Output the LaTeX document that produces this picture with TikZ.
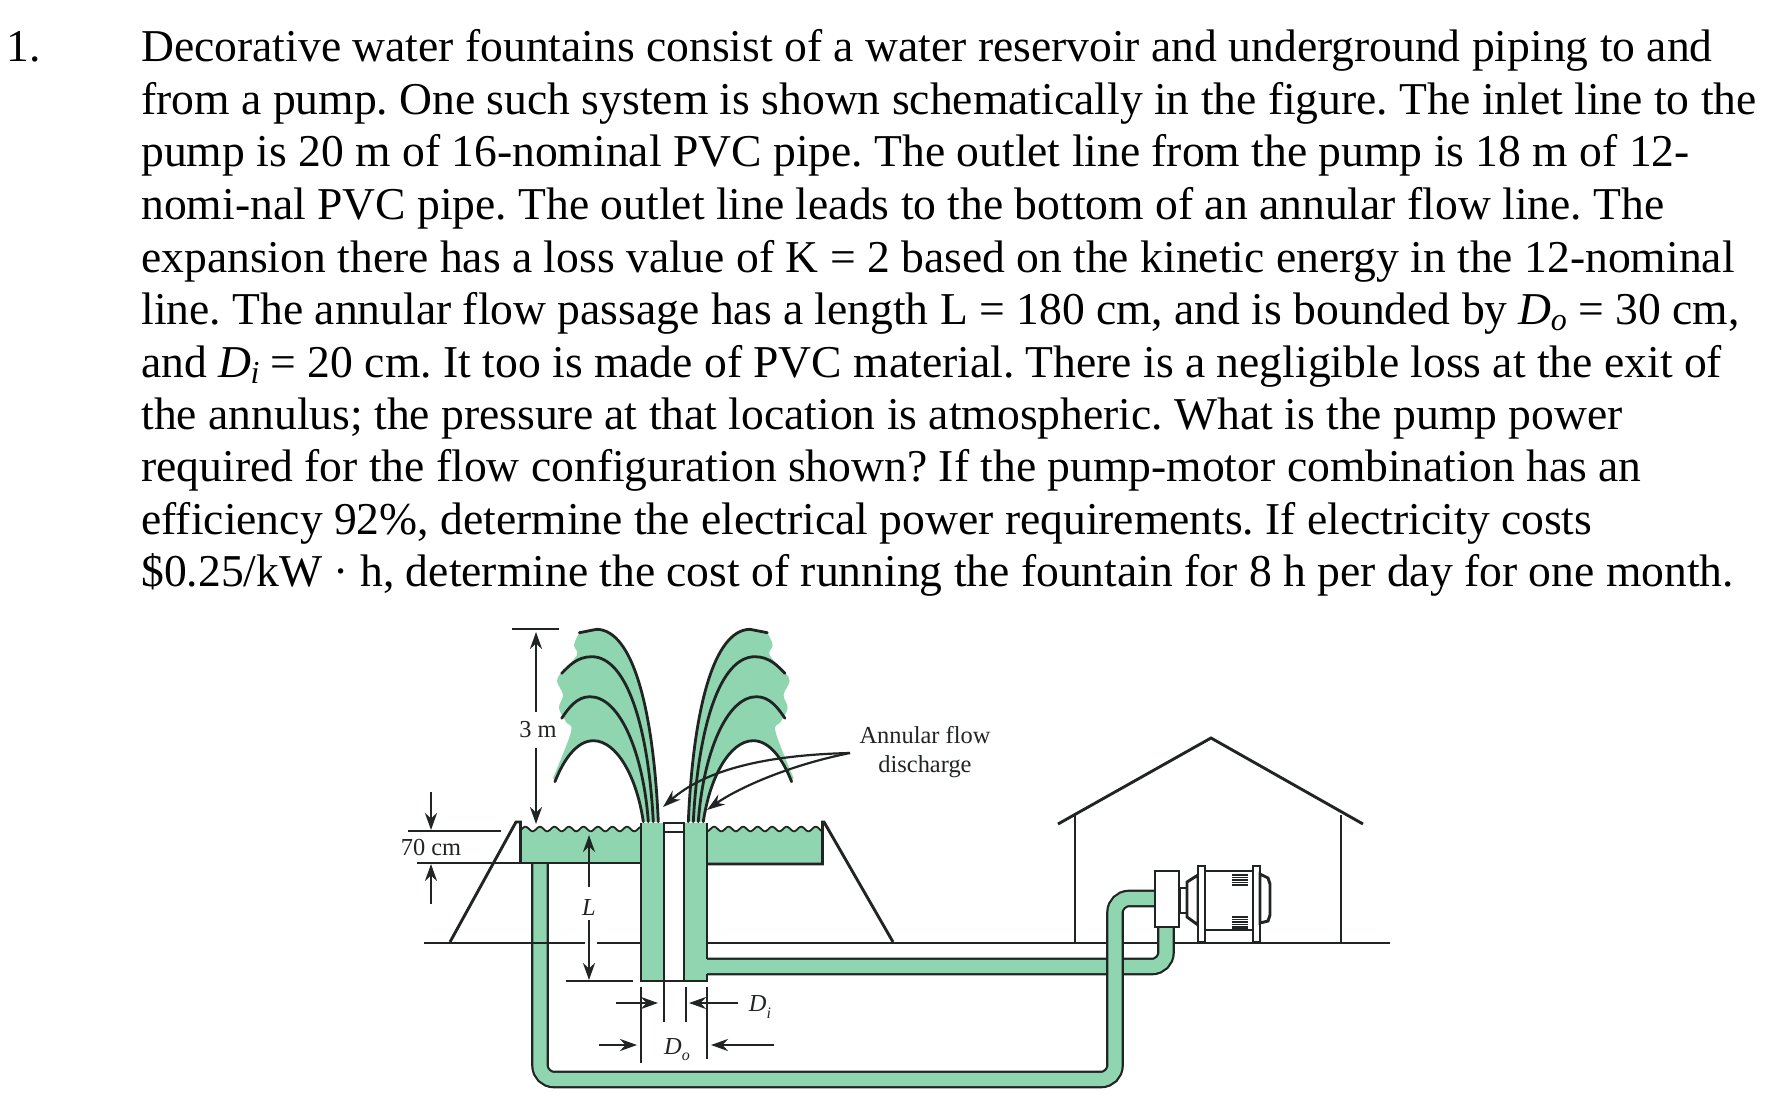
\documentclass[tikz,border=0pt]{standalone}
\usepackage{fontspec}
\setmainfont{Liberation Serif}
\usetikzlibrary{arrows.meta}
\definecolor{water}{RGB}{143,214,176}
\definecolor{ink}{RGB}{32,36,34}
\newcommand{\sbi}[1]{{\itshape D}\kern-.02em\raisebox{-.14em}{\fontsize{16}{16}\selectfont\itshape #1}}
\tikzset{
  bodytext/.style={anchor=base west,inner sep=0pt,font=\fontsize{22.79}{26}\selectfont},
  label/.style={inner sep=0pt,text=ink,font=\fontsize{12.2}{14}\selectfont},
  ln/.style={draw=ink,line width=1.45pt},
  thin ln/.style={draw=ink,line width=.9pt},
  dim/.style={draw=ink,line width=1.4pt,-{Stealth[length=8.5pt,width=6pt]}},
  pipe/.style={draw=ink,line width=1.1pt,double=water,double distance=6.6pt,rounded corners=7pt},
  arc/.style={draw=ink,line width=1.4pt,line cap=round},
}
\begin{document}
\frenchspacing
\begin{tikzpicture}[x=0.5pt,y=-0.5pt]
\useasboundingbox (0,0) rectangle (1772,1118);
\fill[white] (0,0) rectangle (1772,1118);
% text
\node[bodytext] (num) at (6,62) {1.};
\node[bodytext] (t1) at (141,62) {Decorative water fountains consist of a water reservoir and underground piping to and};
\node[bodytext] (t2) at (141,114.5) {from a pump. One such system is shown schematically in the figure. The inlet line to the};
\node[bodytext] (t3) at (141,167) {pump is 20 m of 16-nominal PVC pipe. The outlet line from the pump is 18 m of 12-};
\node[bodytext] (t4) at (141,219.5) {nomi-nal PVC pipe. The outlet line leads to the bottom of an annular flow line. The};
\node[bodytext] (t5) at (141,272) {expansion there has a loss value of K = 2 based on the kinetic energy in the 12-nominal};
\node[bodytext] (t6) at (141,324.5) {line. The annular flow passage has a length L = 180 cm, and is bounded by \sbi{o} = 30 cm,};
\node[bodytext] (t7) at (141,377) {and \sbi{i} = 20 cm. It too is made of PVC material. There is a negligible loss at the exit of};
\node[bodytext] (t8) at (141,429.5) {the annulus; the pressure at that location is atmospheric. What is the pump power};
\node[bodytext] (t9) at (141,481.5) {required for the flow configuration shown? If the pump-motor combination has an};
\node[bodytext] (t10) at (141,534.5) {efficiency 92\%, determine the electrical power requirements. If electricity costs};
\node[bodytext] (t11) at (141,586.5) {\$0.25/kW · h, determine the cost of running the fountain for 8 h per day for one month.};
% ground
\draw[ln] (424,943) -- (585,943) (597,943) -- (641,943) (707,943) -- (1390,943);
% outlet pipe
\draw[pipe] (707,966.5) -- (1166,966.5) -- (1166,928);
% inlet pipe
\draw[pipe] (540,863) -- (540,1079.5) -- (1115,1079.5) -- (1115,898.5) -- (1155,898.5);
\draw[thin ln] (532,943) -- (548,943);
% reservoir
\fill[water] (521,863) -- plot[domain=521:641,samples=90] (\x,{829+2.3*sin((\x-500)*24.8)}) -- (641,864) -- cycle;
\fill[water] (707,864) -- plot[domain=707:822,samples=90] (\x,{829+2.3*sin((\x-500)*24.8)}) -- (822,864) -- cycle;
\draw[thin ln] plot[domain=521:641,samples=90] (\x,{829+2.3*sin((\x-500)*24.8)});
\draw[thin ln] plot[domain=707:822,samples=90] (\x,{829+2.3*sin((\x-500)*24.8)});
\draw[ln] (450,942) -- (516,822) -- (520.5,822) -- (520.5,863);
\draw[thin ln] (417,863) -- (641,863);
\draw[ln] (707,864) -- (822.5,864) -- (822.5,822) -- (824,822) -- (893,942);
% annulus
\fill[water] (641,823) rectangle (664,981);
\fill[water] (684,823) rectangle (707,981);
\fill[water] (705,960) rectangle (712,973);
\draw[ln] (641,823) -- (641,981) -- (707,981) -- (707,974);
\draw[ln] (707,959) -- (707,823);
\draw[ln] (664,981) -- (664,823) -- (684,823) -- (684,981);
\draw[thin ln] (664,832) -- (684,832);
% fountain
\newcommand{\fountainhalf}{%
  \fill[water] (658.3,821.7) .. controls (653.3,710) and (633.3,630) .. (596.7,629.3)
    -- (579.3,632.7) -- plot[smooth,tension=.6] coordinates {(579.3,632.7) (574,645) (577,655) (562,672) (557,681) (563,695) (559,708) (566,722) (571,732) (553,778)}
    -- (555,781.7) .. controls (563.3,760) and (576.7,740.7) .. (593.3,740.7)
    .. controls (616.7,740.7) and (636.7,776.7) .. (643.3,821.7) -- cycle;
  \draw[arc] (658.3,821.7) .. controls (653.3,710) and (633.3,630) .. (596.7,629.3) -- (579.3,632.7);
  \draw[arc] (653.3,821.7) .. controls (648.3,726.7) and (626.7,656.7) .. (591.7,656.7)
     .. controls (576.7,656.7) and (568.3,666.7) .. (561.7,673.3);
  \draw[arc] (648.3,821.7) .. controls (643.3,753.3) and (620,696.7) .. (590,696.7)
     .. controls (576.7,696.7) and (568.3,708.3) .. (561.7,718.3);
  \draw[arc] (643.3,821.7) .. controls (636.7,776.7) and (616.7,740.7) .. (593.3,740.7)
     .. controls (576.7,740.7) and (563.3,760) .. (555,781.7);
}
\fountainhalf
\begin{scope}[xshift=673.3*0.5pt,xscale=-1,xshift=-673.3*0.5pt]
\fountainhalf
\end{scope}
% leaders
\coordinate (lead) at (850,753);
\coordinate (leadA) at (663,807);
\coordinate (leadB) at (707,810);
\draw[draw=ink,line width=1.1pt,-{Stealth[length=9pt,width=6pt]}] (lead) .. controls (765,755) and (705,770) .. (leadA);
\draw[draw=ink,line width=1.1pt,-{Stealth[length=9pt,width=6pt]}] (lead) .. controls (785,766) and (735,790) .. (leadB);
% house
\draw[ln] (1058,824) -- (1211,738) -- (1363,824);
\draw[ln] (1075,815) -- (1075,942) (1341,815) -- (1341,942);
% pump and motor
\draw[ln,fill=white] (1155,871) rectangle (1179,927);
\draw[ln,fill=white] (1180,888) rectangle (1187,913);
\draw[ln,fill=white] (1198,875) -- (1187,882) -- (1187,917) -- (1198,925) -- cycle;
\draw[ln,fill=white] (1205,871) rectangle (1253,930);
\draw[ln,fill=white] (1198,866) rectangle (1205,942);
\draw[ln,fill=white] (1253,866) rectangle (1260,942);
\draw[ln,fill=white] (1260,874) -- (1268,878) -- (1270,884) -- (1270,915) -- (1268,921) -- (1260,923) -- cycle;
\foreach \yy in {875,877.5,880,882.5,885,917,919.5,922,924.5,927,929}
  \draw[ink,line width=.7pt] (1232,\yy) -- (1248,\yy);
% dimensions
\draw[ln] (512,629) -- (559,629);
\draw[dim] (536,712) -- (536,632);
\draw[dim] (536,748) -- (536,824);
\node[label] (threem) at (538,730) {3 m};
\draw[ln] (408,831) -- (501,831);
\draw[dim] (431,792) -- (431,830);
\draw[dim] (431,904) -- (431,864);
\node[label] (seventy) at (431,847) {70 cm};
\draw[ln] (566,981) -- (633,981);
\draw[dim] (589,887) -- (589,835);
\draw[dim] (589,920) -- (589,980);
\node[label,font=\fontsize{12.2}{14}\selectfont\itshape] (ell) at (589,908) {L};
\draw[ln] (641,987) -- (641,1063) (707,987) -- (707,1059);
\draw[thin ln] (664,981) -- (664,1022);
\draw[ln] (686,987) -- (686,1022);
\draw[dim] (616,1003) -- (658,1003);
\draw[dim] (738,1003) -- (689,1003);
\draw[dim] (599,1045) -- (637,1045);
\draw[dim] (774,1045) -- (711,1045);
\node[label,font=\fontsize{12.2}{14}\selectfont\itshape] (di) at (760,1007) {D\raisebox{-.25em}{\fontsize{8}{8}\selectfont i}};
\node[label,font=\fontsize{12.2}{14}\selectfont\itshape] (do) at (677,1050) {D\raisebox{-.25em}{\fontsize{8}{8}\selectfont o}};
\node[label] (ann1) at (925,735) {Annular flow};
\node[label] (ann2) at (925,767) {discharge};
\end{tikzpicture}
\end{document}
